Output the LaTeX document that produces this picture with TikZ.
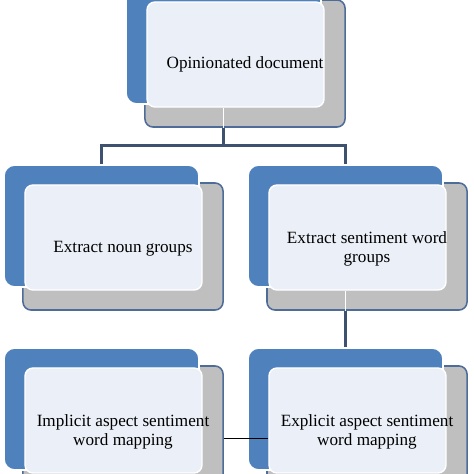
\documentclass[tikz,border=0pt]{standalone}
\usepackage{fontspec}
\setmainfont{Liberation Serif}
\usetikzlibrary{calc}
\definecolor{backblue}{RGB}{79,129,189}
\definecolor{backgray}{RGB}{191,191,191}
\definecolor{grayedge}{RGB}{78,108,152}
\definecolor{frontfill}{RGB}{235,240,248}
\definecolor{linkblue}{RGB}{62,82,112}
\tikzset{
  graybox/.style={rectangle, rounded corners=0.2cm, fill=backgray, draw=grayedge, line width=1.1pt, minimum width=5cm, minimum height=3.175cm, inner sep=0pt},
  bluebox/.style={rectangle, rounded corners=0.27cm, fill=backblue, draw=white, line width=1.2pt, minimum width=4.875cm, minimum height=3.05cm, inner sep=0pt},
  frontbox/.style={rectangle, rounded corners=0.2cm, fill=frontfill, draw=white, line width=1pt, minimum width=4.425cm, minimum height=2.625cm, inner sep=0pt},
  boxtext/.style={align=center, font=\fontsize{12.2}{13.8}\selectfont, inner sep=0pt},
  link/.style={draw=linkblue, line width=1.9pt},
  gap/.style={draw=white, line width=1pt}
}
\begin{document}
\begin{tikzpicture}[x=0.025cm, y=-0.025cm]
\useasboundingbox (0,0) rectangle (474,474);
\clip (0,0) rectangle (474,474);
\node[graybox] (doc) at (245,63.5) {};
\node[bluebox] (docback) at ($(doc)+(-21.5,-20.5)$) {};
\node[frontbox] (docfront) at ($(doc)+(-9.5,-9)$) {};
\node[boxtext] (doctext) at ($(doc)+(0,1)$) {Opinionated document};
\node[graybox] (noun) at (123,246.5) {};
\node[bluebox] (nounback) at ($(noun)+(-21.5,-20.5)$) {};
\node[frontbox] (nounfront) at ($(noun)+(-9.5,-9)$) {};
\node[boxtext] (nountext) at ($(noun)+(0,2.5)$) {Extract noun groups};
\node[graybox] (sent) at (367,246.5) {};
\node[bluebox] (sentback) at ($(sent)+(-21.5,-20.5)$) {};
\node[frontbox] (sentfront) at ($(sent)+(-9.5,-9)$) {};
\node[boxtext] (senttext) at ($(sent)+(0,2.5)$) {Extract sentiment word\\groups};
\node[graybox] (impl) at (123,429.5) {};
\node[bluebox] (implback) at ($(impl)+(-21.5,-20.5)$) {};
\node[frontbox] (implfront) at ($(impl)+(-9.5,-9)$) {};
\node[boxtext] (impltext) at ($(impl)+(0,2.5)$) {Implicit aspect sentiment\\word mapping};
\node[graybox] (expl) at (367,429.5) {};
\node[bluebox] (explback) at ($(expl)+(-21.5,-20.5)$) {};
\node[frontbox] (explfront) at ($(expl)+(-9.5,-9)$) {};
\node[boxtext] (expltext) at ($(expl)+(0,2.5)$) {Explicit aspect sentiment\\word mapping};
\draw[gap] (docback |- docfront.south) -- (docback |- doc.south);
\draw[link] (docback |- doc.south) -- ++(0,18) coordinate (fork);
\draw[link] (fork) -| (nounback.north);
\draw[link] (fork) -| (sentback.north);
\draw[gap] (sentback |- sentfront.south) -- (sentback |- sent.south);
\draw[link] (sentback |- sent.south) -- (explback.north);
\coordinate (mid) at ($(impl.east)+(0,9)$);
\draw[black, line width=0.8pt] (mid) -- (explfront.west |- mid);
\end{tikzpicture}
\end{document}
